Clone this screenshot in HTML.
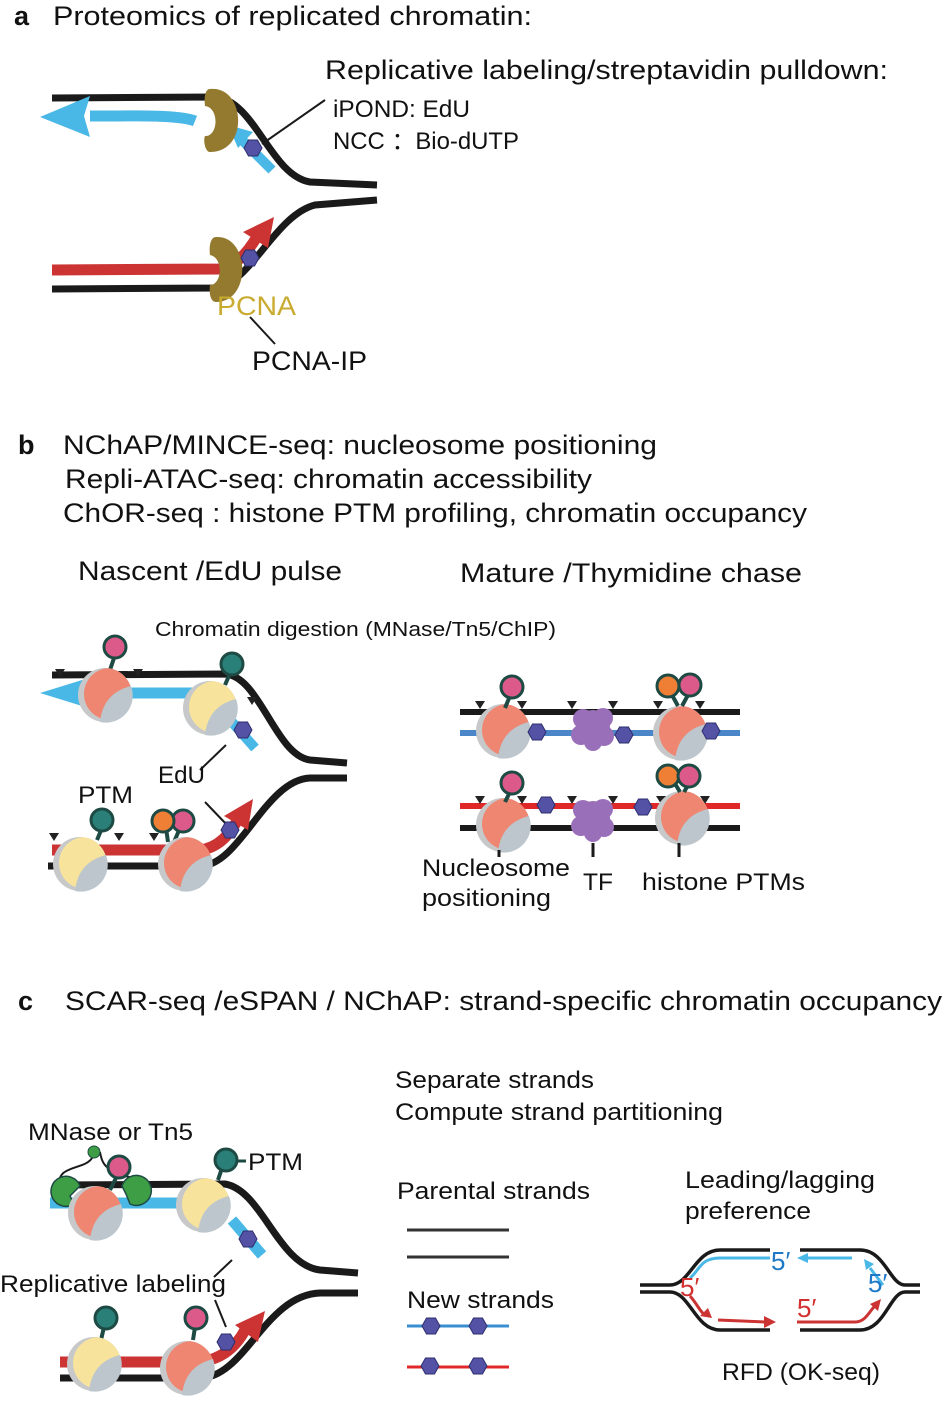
<!DOCTYPE html>
<html><head><meta charset="utf-8"><style>
body{margin:0;background:#fff}
svg{display:block}
text{font-family:"Liberation Sans",sans-serif;fill:#111}
</style></head><body>
<svg width="950" height="1415" viewBox="0 0 950 1415" xmlns="http://www.w3.org/2000/svg">
<defs>
<clipPath id="cc"><circle cx="0" cy="0" r="27"/></clipPath>
<g id="nucS">
<circle r="27" fill="#c6c8ca"/>
<g clip-path="url(#cc)"><circle cx="5" cy="-1" r="26" fill="#ee8672"/></g>
<path d="M-5 27 Q-2 -2 26 -9 A27 27 0 0 1 -5 27Z" fill="#bcc6cc"/>
</g>
<g id="nucY">
<circle r="27" fill="#c6c8ca"/>
<g clip-path="url(#cc)"><circle cx="5" cy="-1" r="26" fill="#f7e39b"/></g>
<path d="M-5 27 Q-2 -2 26 -9 A27 27 0 0 1 -5 27Z" fill="#bcc6cc"/>
</g>
<polygon id="hex" points="9,0 4.5,8 -4.5,8 -9,0 -4.5,-8 4.5,-8" fill="#5352a5" stroke="#2e2e6e" stroke-width="1"/>
<path id="tri" d="M-5 -4 L5 -4 L0 4Z" fill="#222"/>
<g id="blob"><circle cx="0" cy="0" r="17" fill="#9a6fba"/><circle cx="-10" cy="-8" r="10" fill="#9a6fba"/><circle cx="10" cy="-9" r="10" fill="#9a6fba"/><circle cx="-12" cy="8" r="10" fill="#9a6fba"/><circle cx="11" cy="9" r="10" fill="#9a6fba"/><circle cx="0" cy="15" r="9" fill="#9a6fba"/></g>
</defs>

<!-- ===== a ===== -->
<text x="14" y="25" font-size="27" font-weight="bold">a</text>
<text x="53" y="25" font-size="27" textLength="479" lengthAdjust="spacingAndGlyphs">Proteomics of replicated chromatin:</text>
<text x="325" y="79" font-size="27" textLength="563" lengthAdjust="spacingAndGlyphs">Replicative labeling/streptavidin pulldown:</text>
<text x="333" y="117" font-size="24" textLength="137" lengthAdjust="spacingAndGlyphs">iPOND: EdU</text>
<text x="333" y="149" font-size="24" textLength="186" lengthAdjust="spacingAndGlyphs">NCC ：Bio-dUTP</text>

<path d="M52 98 L215 97 C255 100 270 175 310 182 L377 185" fill="none" stroke="#1a1a1a" stroke-width="7"/>
<path d="M195 121 Q180 115 120 116 L90 116" fill="none" stroke="#4ab8e6" stroke-width="11"/>
<polygon points="40,117 90,96 84,116 90,137" fill="#4ab8e6"/>
<path d="M272 170 L240 138" stroke="#4ab8e6" stroke-width="10"/>
<polygon points="228,125 253,132 238,148" fill="#4ab8e6"/>
<path d="M210 89 C245 85 250 152 210 152 C205 152 203 140 205 136 C218 137 220 108 205 106 C204 98 205 89 210 89Z" fill="#937a2e"/>
<use href="#hex" x="253" y="148"/>
<line x1="262" y1="144" x2="325" y2="100" stroke="#1a1a1a" stroke-width="2"/>

<path d="M52 289 L215 288 C250 285 275 215 315 205 L377 200" fill="none" stroke="#1a1a1a" stroke-width="7"/>
<path d="M52 270 L220 269 Q240 266 258 235" fill="none" stroke="#cc3333" stroke-width="11"/>
<polygon points="274,217 268,248 243,232" fill="#cc3333"/>
<path d="M216 237 C250 235 252 302 216 302 C210 302 209 292 210 285 C222 285 224 258 210 255 C209 248 210 237 216 237Z" fill="#937a2e"/>
<use href="#hex" x="250" y="258"/>
<text x="217" y="315" font-size="27" style="fill:#c9ab2f" textLength="79" lengthAdjust="spacingAndGlyphs">PCNA</text>
<line x1="250" y1="317" x2="275" y2="344" stroke="#1a1a1a" stroke-width="2"/>
<text x="252" y="370" font-size="27" textLength="115" lengthAdjust="spacingAndGlyphs">PCNA-IP</text>

<!-- ===== b ===== -->
<text x="18" y="454" font-size="27" font-weight="bold">b</text>
<text x="63" y="454" font-size="27" textLength="594" lengthAdjust="spacingAndGlyphs">NChAP/MINCE-seq: nucleosome positioning</text>
<text x="65" y="488" font-size="27" textLength="527" lengthAdjust="spacingAndGlyphs">Repli-ATAC-seq: chromatin accessibility</text>
<text x="63" y="522" font-size="27" textLength="744" lengthAdjust="spacingAndGlyphs">ChOR-seq : histone PTM profiling, chromatin occupancy</text>
<text x="78" y="580" font-size="27" textLength="264" lengthAdjust="spacingAndGlyphs">Nascent /EdU pulse</text>
<text x="460" y="582" font-size="27" textLength="342" lengthAdjust="spacingAndGlyphs">Mature /Thymidine chase</text>
<text x="155" y="636" font-size="20" textLength="401" lengthAdjust="spacingAndGlyphs">Chromatin digestion (MNase/Tn5/ChIP)</text>

<!-- left fork -->
<path d="M52 675 L225 674 C260 676 275 755 310 760 L347 763" fill="none" stroke="#1a1a1a" stroke-width="7"/>
<path d="M100 693 L200 693" stroke="#4ab8e6" stroke-width="11"/>
<polygon points="40,693 95,676 95,710" fill="#4ab8e6"/>
<path d="M255 748 L232 722" stroke="#4ab8e6" stroke-width="10"/>
<use href="#tri" x="60" y="673"/><use href="#tri" x="138" y="673"/><use href="#tri" x="252" y="701"/>
<line x1="110" y1="670" x2="115" y2="655" stroke="#1e4a44" stroke-width="4"/>
<circle cx="115" cy="647" r="11" fill="#dc5a8a" stroke="#1e4a44" stroke-width="3"/>
<use href="#nucS" x="105" y="695"/>
<line x1="225" y1="685" x2="231" y2="671" stroke="#1e4a44" stroke-width="4"/>
<circle cx="232" cy="664" r="11" fill="#2a8078" stroke="#1e4a44" stroke-width="3"/>
<use href="#nucY" x="210" y="708"/>
<use href="#hex" x="243" y="730"/>
<line x1="226" y1="745" x2="200" y2="770" stroke="#1a1a1a" stroke-width="2"/>
<text x="158" y="783" font-size="24" textLength="47" lengthAdjust="spacingAndGlyphs">EdU</text>
<text x="78" y="803" font-size="24" textLength="55" lengthAdjust="spacingAndGlyphs">PTM</text>

<path d="M48 866 L200 866 C240 866 265 780 310 778 L347 778" fill="none" stroke="#1a1a1a" stroke-width="7"/>
<path d="M52 850 L200 850 Q225 847 240 815" fill="none" stroke="#cc3333" stroke-width="11"/>
<polygon points="253,799 248,830 224,816" fill="#cc3333"/>
<use href="#tri" x="54" y="837"/><use href="#tri" x="119" y="837"/><use href="#tri" x="154" y="837"/>
<line x1="205" y1="802" x2="228" y2="826" stroke="#1a1a1a" stroke-width="2"/>
<use href="#hex" x="230" y="830"/>
<line x1="97" y1="840" x2="102" y2="828" stroke="#1e4a44" stroke-width="4"/>
<circle cx="102" cy="820" r="11" fill="#2a8078" stroke="#1e4a44" stroke-width="3"/>
<use href="#nucY" x="80" y="864"/>
<line x1="168" y1="842" x2="166" y2="828" stroke="#1e4a44" stroke-width="4"/>
<line x1="174" y1="842" x2="180" y2="828" stroke="#1e4a44" stroke-width="4"/>
<circle cx="183" cy="821" r="11" fill="#dc5a8a" stroke="#1e4a44" stroke-width="3"/>
<circle cx="163" cy="821" r="11" fill="#ef7f35" stroke="#1e4a44" stroke-width="3"/>
<use href="#nucS" x="185" y="864"/>

<!-- right mature -->
<line x1="460" y1="712" x2="740" y2="712" stroke="#1a1a1a" stroke-width="6"/>
<line x1="460" y1="733" x2="740" y2="733" stroke="#4a86c8" stroke-width="6"/>
<line x1="460" y1="806" x2="740" y2="806" stroke="#e02828" stroke-width="6"/>
<line x1="460" y1="828" x2="740" y2="828" stroke="#1a1a1a" stroke-width="6"/>
<g>
<use href="#tri" x="480" y="705"/><use href="#tri" x="522" y="705"/><use href="#tri" x="572" y="705"/><use href="#tri" x="613" y="705"/><use href="#tri" x="658" y="705"/><use href="#tri" x="700" y="705"/>
<use href="#tri" x="480" y="800"/><use href="#tri" x="522" y="800"/><use href="#tri" x="572" y="800"/><use href="#tri" x="613" y="800"/><use href="#tri" x="661" y="800"/><use href="#tri" x="705" y="800"/>
</g>
<use href="#nucS" x="503" y="731"/>
<line x1="505" y1="708" x2="510" y2="696" stroke="#1e4a44" stroke-width="4"/>
<circle cx="512" cy="687" r="11" fill="#dc5a8a" stroke="#1e4a44" stroke-width="3"/>
<use href="#hex" x="537" y="732"/>
<use href="#blob" x="593" y="727"/>
<use href="#hex" x="624" y="735"/>
<use href="#nucS" x="680" y="733"/>
<path d="M678 706 L672 695 M682 706 L688 695" stroke="#1e4a44" stroke-width="4"/>
<circle cx="668" cy="686" r="11" fill="#ef7f35" stroke="#1e4a44" stroke-width="3"/>
<circle cx="690" cy="685" r="11" fill="#dc5a8a" stroke="#1e4a44" stroke-width="3"/>
<use href="#hex" x="711" y="731"/>

<use href="#nucS" x="503" y="825"/>
<line x1="505" y1="802" x2="510" y2="792" stroke="#1e4a44" stroke-width="4"/>
<circle cx="512" cy="783" r="11" fill="#dc5a8a" stroke="#1e4a44" stroke-width="3"/>
<use href="#hex" x="546" y="805"/>
<use href="#blob" x="593" y="818"/>
<use href="#hex" x="643" y="807"/>
<use href="#nucS" x="682" y="818"/>
<path d="M680 792 L674 782 M684 792 L690 782" stroke="#1e4a44" stroke-width="4"/>
<circle cx="668" cy="776" r="11" fill="#ef7f35" stroke="#1e4a44" stroke-width="3"/>
<circle cx="689" cy="776" r="11" fill="#dc5a8a" stroke="#1e4a44" stroke-width="3"/>
<line x1="499" y1="850" x2="499" y2="857" stroke="#1a1a1a" stroke-width="3"/>
<line x1="593" y1="843" x2="593" y2="857" stroke="#1a1a1a" stroke-width="3"/>
<line x1="679" y1="843" x2="679" y2="857" stroke="#1a1a1a" stroke-width="3"/>
<text x="422" y="876" font-size="24" textLength="148" lengthAdjust="spacingAndGlyphs">Nucleosome</text>
<text x="422" y="906" font-size="24" textLength="129" lengthAdjust="spacingAndGlyphs">positioning</text>
<text x="583" y="890" font-size="24" textLength="30" lengthAdjust="spacingAndGlyphs">TF</text>
<text x="642" y="890" font-size="24" textLength="163" lengthAdjust="spacingAndGlyphs">histone PTMs</text>

<!-- ===== c ===== -->
<text x="18" y="1010" font-size="27" font-weight="bold">c</text>
<text x="65" y="1010" font-size="27" textLength="877" lengthAdjust="spacingAndGlyphs">SCAR-seq /eSPAN / NChAP: strand-specific chromatin occupancy</text>
<text x="395" y="1088" font-size="24" textLength="199" lengthAdjust="spacingAndGlyphs">Separate strands</text>
<text x="395" y="1120" font-size="24" textLength="328" lengthAdjust="spacingAndGlyphs">Compute strand partitioning</text>
<text x="28" y="1140" font-size="24" textLength="165" lengthAdjust="spacingAndGlyphs">MNase or Tn5</text>
<text x="248" y="1170" font-size="24" textLength="55" lengthAdjust="spacingAndGlyphs">PTM</text>

<path d="M55 1185 L225 1184 C262 1190 278 1265 320 1270 L358 1273" fill="none" stroke="#1a1a1a" stroke-width="7"/>
<path d="M50 1203 L200 1203" stroke="#4ab8e6" stroke-width="11"/>
<path d="M262 1255 L232 1220" stroke="#4ab8e6" stroke-width="11"/>
<path d="M60 1186 C55 1165 85 1170 92 1158 M100 1152 C103 1170 110 1172 150 1183" fill="none" stroke="#1a1a1a" stroke-width="2"/>
<circle cx="94" cy="1152" r="6" fill="#3e9e45" stroke="#1e4a44" stroke-width="1"/>
<path d="M74 1204 A15 15 0 1 1 80 1186 L70 1196Z" fill="#3e9e45" stroke="#1e4a44" stroke-width="1.5"/>
<path d="M122 1186 A15 15 0 1 1 130 1204 L126 1194Z" fill="#3e9e45" stroke="#1e4a44" stroke-width="1.5"/>
<line x1="110" y1="1190" x2="117" y2="1176" stroke="#1e4a44" stroke-width="4"/>
<circle cx="119" cy="1167" r="11" fill="#dc5a8a" stroke="#1e4a44" stroke-width="3"/>
<use href="#nucS" x="95" y="1213"/>
<line x1="218" y1="1180" x2="222" y2="1168" stroke="#1e4a44" stroke-width="4"/>
<circle cx="226" cy="1160" r="11" fill="#2a8078" stroke="#1e4a44" stroke-width="3"/>
<line x1="237" y1="1161" x2="246" y2="1161" stroke="#1e4a44" stroke-width="3"/>
<use href="#nucY" x="203" y="1205"/>
<use href="#hex" x="248" y="1239"/>
<line x1="232" y1="1260" x2="214" y2="1277" stroke="#1a1a1a" stroke-width="2"/>
<text x="0" y="1292" font-size="24" textLength="226" lengthAdjust="spacingAndGlyphs">Replicative labeling</text>
<line x1="215" y1="1300" x2="226" y2="1327" stroke="#1a1a1a" stroke-width="2"/>

<path d="M60 1378 L200 1378 C245 1378 265 1295 320 1293 L358 1293" fill="none" stroke="#1a1a1a" stroke-width="7"/>
<path d="M60 1362 L200 1362 Q230 1358 245 1330" fill="none" stroke="#cc3333" stroke-width="11"/>
<polygon points="265,1311 258,1342 235,1325" fill="#cc3333"/>
<use href="#hex" x="226" y="1342"/>
<line x1="101" y1="1340" x2="104" y2="1327" stroke="#1e4a44" stroke-width="4"/>
<circle cx="106" cy="1318" r="11" fill="#2a8078" stroke="#1e4a44" stroke-width="3"/>
<use href="#nucY" x="94" y="1364"/>
<line x1="193" y1="1340" x2="195" y2="1327" stroke="#1e4a44" stroke-width="4"/>
<circle cx="196" cy="1318" r="11" fill="#dc5a8a" stroke="#1e4a44" stroke-width="3"/>
<use href="#nucS" x="187" y="1368"/>

<!-- legend -->
<text x="397" y="1199" font-size="24" textLength="193" lengthAdjust="spacingAndGlyphs">Parental strands</text>
<line x1="407" y1="1230" x2="509" y2="1230" stroke="#333" stroke-width="3"/>
<line x1="407" y1="1257" x2="509" y2="1257" stroke="#333" stroke-width="3"/>
<text x="407" y="1308" font-size="24" textLength="147" lengthAdjust="spacingAndGlyphs">New strands</text>
<line x1="407" y1="1326" x2="509" y2="1326" stroke="#3a8fd0" stroke-width="3"/>
<line x1="407" y1="1367" x2="509" y2="1367" stroke="#e02828" stroke-width="3"/>
<use href="#hex" x="431" y="1326"/><use href="#hex" x="478" y="1326"/>
<use href="#hex" x="430" y="1366"/><use href="#hex" x="478" y="1366"/>

<text x="685" y="1188" font-size="24" textLength="190" lengthAdjust="spacingAndGlyphs">Leading/lagging</text>
<text x="685" y="1219" font-size="24" textLength="126" lengthAdjust="spacingAndGlyphs">preference</text>
<!-- bubble -->
<g fill="none" stroke="#1a1a1a" stroke-width="3.5">
<path d="M640 1285 L670 1285 C690 1285 695 1250 720 1250 L770 1250"/>
<path d="M640 1292 L670 1292 C690 1292 695 1330 720 1330 L770 1330"/>
<path d="M800 1250 L860 1250 C885 1250 890 1285 905 1285 L920 1285"/>
<path d="M800 1330 L860 1330 C885 1330 890 1292 905 1292 L920 1292"/>
</g>
<g fill="none" stroke="#4ab8e6" stroke-width="3">
<path d="M770 1258 L720 1258 C700 1258 700 1270 690 1278"/>
<path d="M852 1258 L805 1258"/>
<path d="M883 1285 L870 1268"/>
</g>
<polygon points="797,1258 808,1253 808,1263" fill="#4ab8e6"/>
<polygon points="864,1259 874,1264 866,1270" fill="#4ab8e6"/>
<g fill="none" stroke="#cc3333" stroke-width="3">
<path d="M690 1296 C698 1305 700 1312 705 1315"/>
<path d="M718 1320 L765 1322"/>
<path d="M797 1322 L855 1322 C866 1322 870 1310 875 1306"/>
</g>
<polygon points="712,1318 700,1316 708,1308" fill="#cc3333"/>
<polygon points="776,1322 764,1316 764,1328" fill="#cc3333"/>
<polygon points="881,1299 878,1311 870,1304" fill="#cc3333"/>
<text x="771" y="1270" font-size="26" style="fill:#1e78c8">5′</text>
<text x="868" y="1292" font-size="26" style="fill:#1e78c8">5′</text>
<text x="680" y="1296" font-size="26" style="fill:#d32f2f">5′</text>
<text x="797" y="1317" font-size="26" style="fill:#d32f2f">5′</text>
<text x="722" y="1380" font-size="24" textLength="158" lengthAdjust="spacingAndGlyphs">RFD (OK-seq)</text>
</svg>
</body></html>
